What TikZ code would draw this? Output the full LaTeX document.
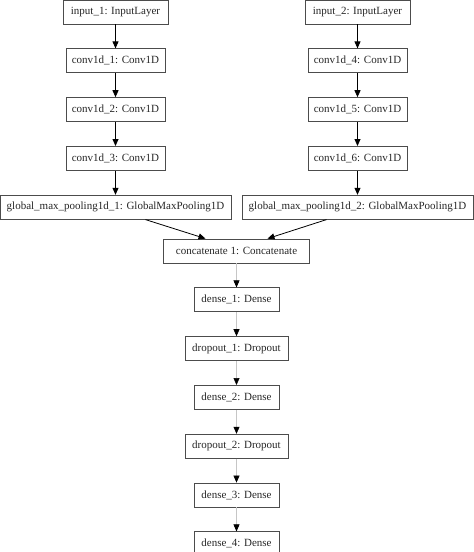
\documentclass[tikz,border=0pt]{standalone}
\usepackage{fontspec}
\setmainfont{Liberation Serif}
\usetikzlibrary{arrows.meta, positioning}

\begin{document}
\begin{tikzpicture}[
    x=1pt, y=1pt,
    node distance=24pt,
    layer/.style={rectangle, draw=black!70, line width=0.8pt, minimum height=24pt, inner sep=2pt, font=\fontsize{11}{13}\selectfont, text=black!85},
    arr/.style={-{Triangle[length=7pt, width=6pt]}, line width=0.8pt, black},
    lite/.style={-{Triangle[length=7pt, width=6pt, black]}, line width=0.6pt, gray!45}
]
\useasboundingbox (0,0) rectangle (474,-552);
% left branch
\node[layer, minimum width=105pt] (in1) at (115.5,-12) {input\_1: InputLayer};
\node[layer, minimum width=99pt, below=of in1] (cv1) {conv1d\_1: Conv1D};
\node[layer, minimum width=99pt, below=of cv1] (cv2) {conv1d\_2: Conv1D};
\node[layer, minimum width=99pt, below=of cv2] (cv3) {conv1d\_3: Conv1D};
\node[layer, minimum width=231pt, below=of cv3] (gmp1) {global\_max\_pooling1d\_1: GlobalMaxPooling1D};
% right branch
\node[layer, minimum width=105pt] (in2) at (357.5,-12) {input\_2: InputLayer};
\node[layer, minimum width=99pt, below=of in2] (cv4) {conv1d\_4: Conv1D};
\node[layer, minimum width=99pt, below=of cv4] (cv5) {conv1d\_5: Conv1D};
\node[layer, minimum width=99pt, below=of cv5] (cv6) {conv1d\_6: Conv1D};
\node[layer, minimum width=231pt, below=of cv6] (gmp2) {global\_max\_pooling1d\_2: GlobalMaxPooling1D};
% merged head
\node[layer, minimum width=146pt] (cat) at (236.5,-251) {concatenate 1: Concatenate};
\node[layer, minimum width=85pt, below=of cat] (de1) {dense\_1: Dense};
\node[layer, minimum width=103pt, below=of de1] (do1) {dropout\_1: Dropout};
\node[layer, minimum width=85pt, below=of do1] (de2) {dense\_2: Dense};
\node[layer, minimum width=103pt, below=of de2] (do2) {dropout\_2: Dropout};
\node[layer, minimum width=85pt, below=of do2] (de3) {dense\_3: Dense};
\node[layer, minimum width=85pt, below=of de3] (de4) {dense\_4: Dense};
\draw[arr] (in1)--(cv1); \draw[arr] (cv1)--(cv2); \draw[arr] (cv2)--(cv3); \draw[arr] (cv3)--(gmp1);
\draw[arr] (in2)--(cv4); \draw[arr] (cv4)--(cv5); \draw[arr] (cv5)--(cv6); \draw[arr] (cv6)--(gmp2);
\draw[arr] ([xshift=30pt]gmp1.south)--([xshift=-31pt]cat.north);
\draw[arr] ([xshift=-31pt]gmp2.south)--([xshift=31pt]cat.north);
\draw[lite] (cat)--(de1); \draw[lite] (de1)--(do1); \draw[lite] (do1)--(de2);
\draw[lite] (de2)--(do2); \draw[lite] (do2)--(de3); \draw[lite] (de3)--(de4);
\end{tikzpicture}
\end{document}
